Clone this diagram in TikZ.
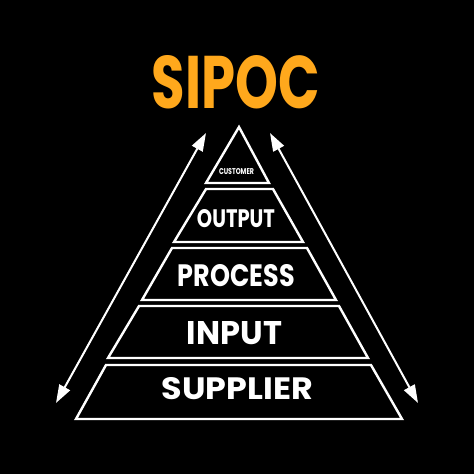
\documentclass[tikz,border=0pt]{standalone}
\usepackage{fontspec}
\usepackage{graphicx}
\setmainfont{Poppins}
\usetikzlibrary{arrows.meta}
\definecolor{sipoc}{HTML}{FFA81C}
\begin{document}
\begin{tikzpicture}[x=1pt,y=-1pt,
  layer/.style={draw=white,line width=2.4pt,line join=miter},
  lbl/.style={text=white,inner sep=0pt,font=\bfseries},
  arr/.style={draw=white,line width=2pt,{Triangle[width=12pt,length=18pt]}-{Triangle[width=12pt,length=18pt]}}]
\fill[black] (0,0) rectangle (474,474);
\useasboundingbox (0,0) rectangle (474,474);
% title
\node[inner sep=0pt,text=sipoc,font=\bfseries] (title) at (236,82) {\resizebox{168pt}{53pt}{SIPOC}};
% layers
\draw[layer] (239,127) -- (269,183) -- (206,183) -- cycle;
\draw[layer] (206,189) -- (273,189) -- (303,242) -- (174,242) -- cycle;
\draw[layer] (172,248) -- (307,248) -- (336,300) -- (142,300) -- cycle;
\draw[layer] (139,306) -- (339,306) -- (368,358) -- (108,358) -- cycle;
\draw[layer] (106,365) -- (371,365) -- (402,419) -- (76,419) -- cycle;
% labels
\node[lbl] (customer) at (236.5,172) {\resizebox{35pt}{6pt}{CUSTOMER}};
\node[lbl] (output) at (236,219) {\resizebox{78pt}{18pt}{OUTPUT}};
\node[lbl] (process) at (236.5,276) {\resizebox{117pt}{22pt}{PROCESS}};
\node[lbl] (input) at (234.5,333.5) {\resizebox{95pt}{23pt}{INPUT}};
\node[lbl] (supplier) at (237.5,389) {\resizebox{151pt}{22pt}{SUPPLIER}};
% arrows
\coordinate (la) at (206,133);
\coordinate (lb) at (56,403);
\coordinate (ra) at (270,133);
\coordinate (rb) at (418,403);
\draw[arr] (lb) -- (la);
\draw[arr] (ra) -- (rb);
\end{tikzpicture}
\end{document}
